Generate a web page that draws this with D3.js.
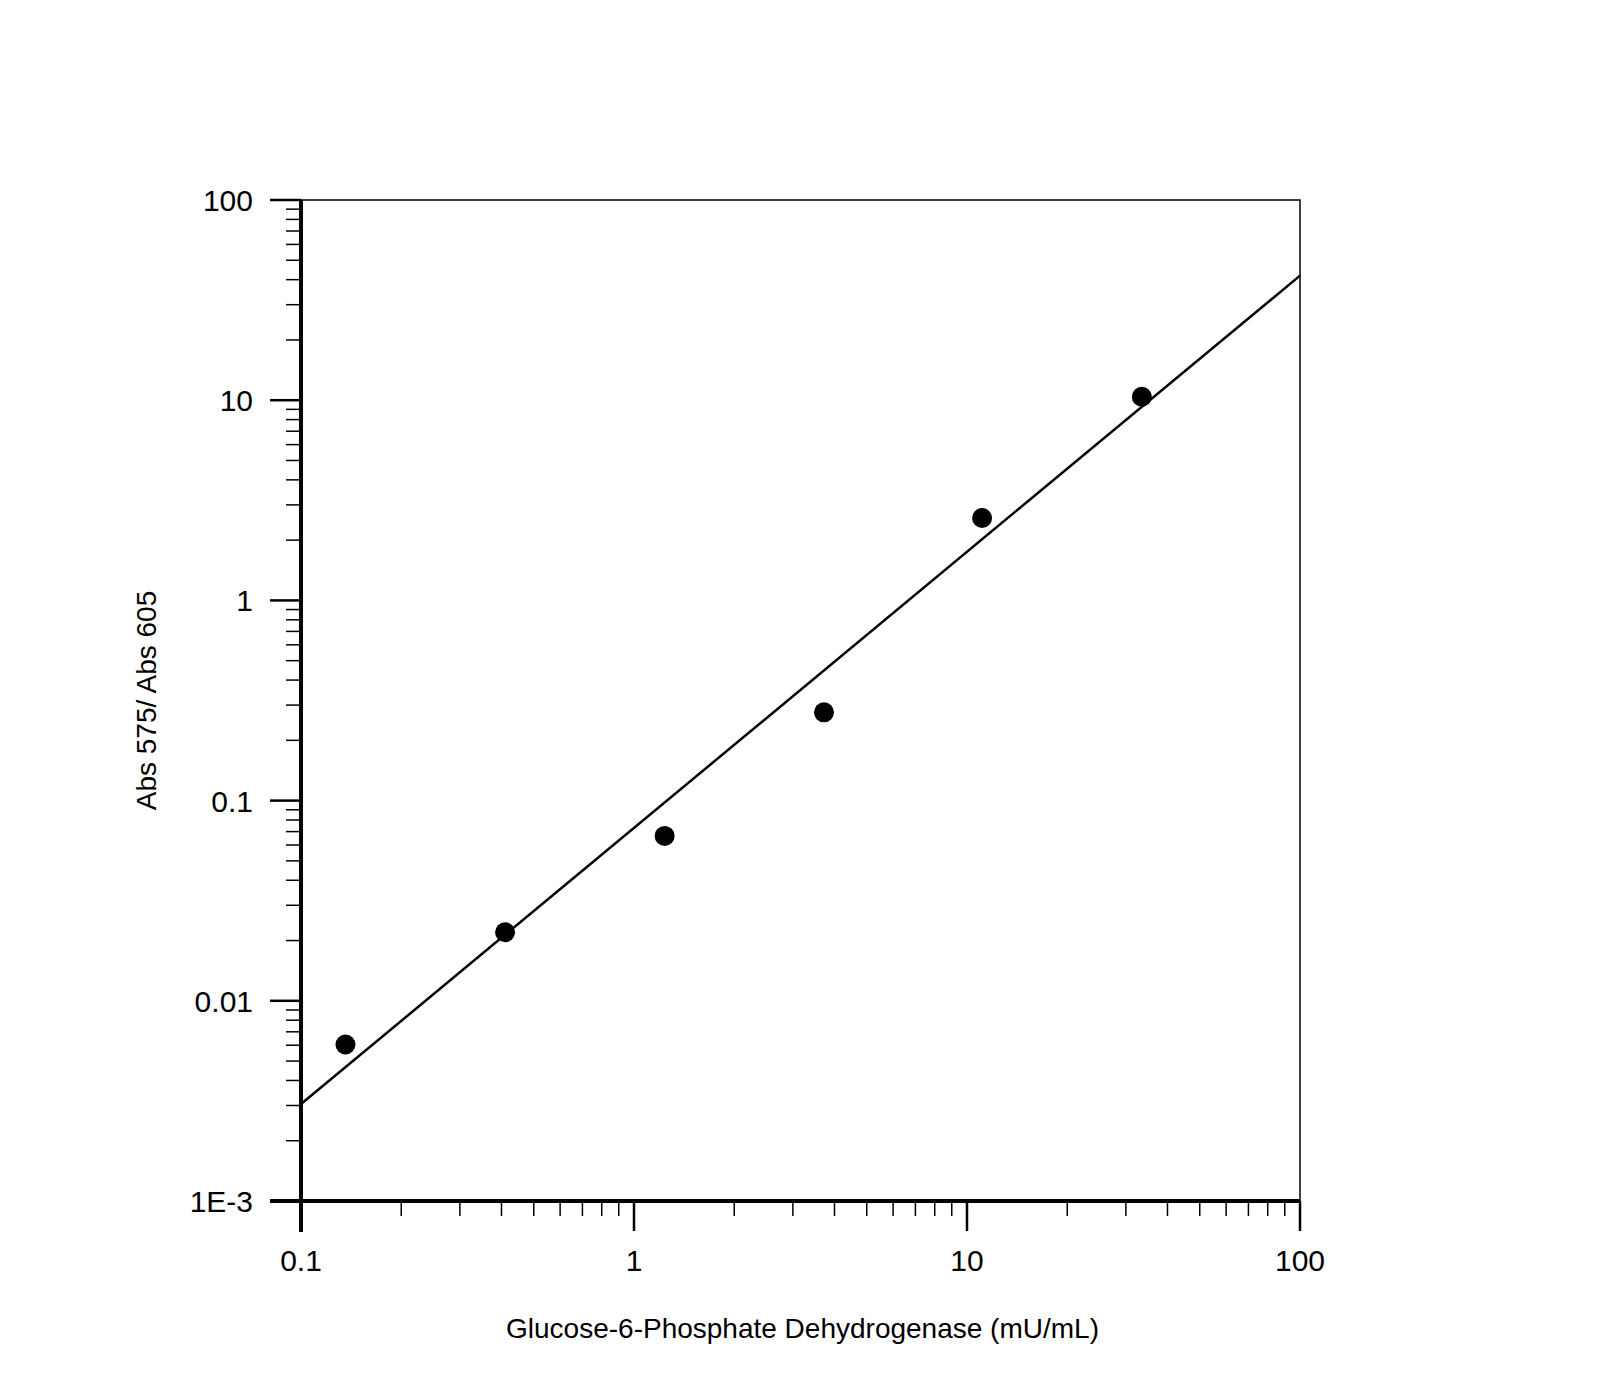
<!DOCTYPE html>
<html><head><meta charset="utf-8">
<script src="https://cdn.jsdelivr.net/npm/d3@7"></script>
<style>body{margin:0;background:#fff}svg text{font-family:"Liberation Sans",Arial,sans-serif}</style>
</head><body><svg id="chart" width="1600" height="1400"></svg>
<script>
// data
var conc = [0.136, 0.41, 1.236, 3.72, 11.1, 33.5];
var ratio = [0.00605, 0.022, 0.0666, 0.276, 2.58, 10.4];
var fitX = [0.1, 100];
var fitY = [0.00305, 41.9];
var xTicks = [0.1, 1, 10, 100], xTickLabels = ["0.1", "1", "10", "100"];
var yTicks = [0.001, 0.01, 0.1, 1, 10, 100], yTickLabels = ["1E-3", "0.01", "0.1", "1", "10", "100"];

var svg = d3.select("#chart");
var L = 301, R = 1300, T = 200, B = 1201;
var x = d3.scaleLog().domain([0.1, 100]).range([L, R]);
var y = d3.scaleLog().domain([0.001, 100]).range([B, T]);

function minors(lo, hi){
  var out = [];
  for (var d = lo; d < hi; d *= 10) for (var k = 2; k <= 9; k++) out.push(d * k);
  return out;
}

// frame
svg.append("rect").attr("x", L).attr("y", T).attr("width", R - L).attr("height", B - T)
  .attr("fill", "none").attr("stroke", "#000").attr("stroke-width", 1.5);

// x axis
var gx = svg.append("g");
gx.selectAll(".mj").data(xTicks).enter().append("line")
  .attr("x1", d => x(d)).attr("x2", d => x(d)).attr("y1", B).attr("y2", B + 30)
  .attr("stroke", "#000").attr("stroke-width", 2.5);
gx.selectAll(".mn").data(minors(0.1, 100)).enter().append("line")
  .attr("x1", d => x(d)).attr("x2", d => x(d)).attr("y1", B).attr("y2", B + 15)
  .attr("stroke", "#000").attr("stroke-width", 1.5);
gx.selectAll("text").data(xTicks).enter().append("text")
  .attr("x", d => x(d)).attr("y", B + 70).attr("text-anchor", "middle")
  .attr("font-size", 30).text((d, i) => xTickLabels[i]);
svg.append("line").attr("x1", L - 31).attr("x2", R).attr("y1", B).attr("y2", B)
  .attr("stroke", "#000").attr("stroke-width", 4);

// y axis
var gy = svg.append("g");
gy.selectAll(".mj").data(yTicks).enter().append("line")
  .attr("x1", L - 31).attr("x2", L).attr("y1", d => y(d)).attr("y2", d => y(d))
  .attr("stroke", "#000").attr("stroke-width", 2.5);
gy.selectAll(".mn").data(minors(0.001, 100)).enter().append("line")
  .attr("x1", L - 15).attr("x2", L).attr("y1", d => y(d)).attr("y2", d => y(d))
  .attr("stroke", "#000").attr("stroke-width", 1.5);
gy.selectAll("text").data(yTicks).enter().append("text")
  .attr("x", L - 48).attr("y", d => y(d) + 11).attr("text-anchor", "end")
  .attr("font-size", 30).text((d, i) => yTickLabels[i]);
svg.append("line").attr("x1", L).attr("x2", L).attr("y1", T).attr("y2", B + 31)
  .attr("stroke", "#000").attr("stroke-width", 4);

// titles
svg.append("text").attr("x", (L + R) / 2 + 2).attr("y", 1338).attr("text-anchor", "middle")
  .attr("font-size", 28).text("Glucose-6-Phosphate Dehydrogenase (mU/mL)");
svg.append("text").attr("transform", "translate(156," + ((T + B) / 2) + ") rotate(-90)")
  .attr("text-anchor", "middle").attr("font-size", 28).text("Abs 575/ Abs 605");

// fit line
svg.append("line").attr("x1", x(fitX[0])).attr("y1", y(fitY[0]))
  .attr("x2", x(fitX[1])).attr("y2", y(fitY[1]))
  .attr("stroke", "#000").attr("stroke-width", 2.5);

// points
svg.selectAll(".pt").data(conc).enter().append("circle")
  .attr("cx", d => x(d)).attr("cy", (d, i) => y(ratio[i])).attr("r", 10).attr("fill", "#000");
</script></body></html>
